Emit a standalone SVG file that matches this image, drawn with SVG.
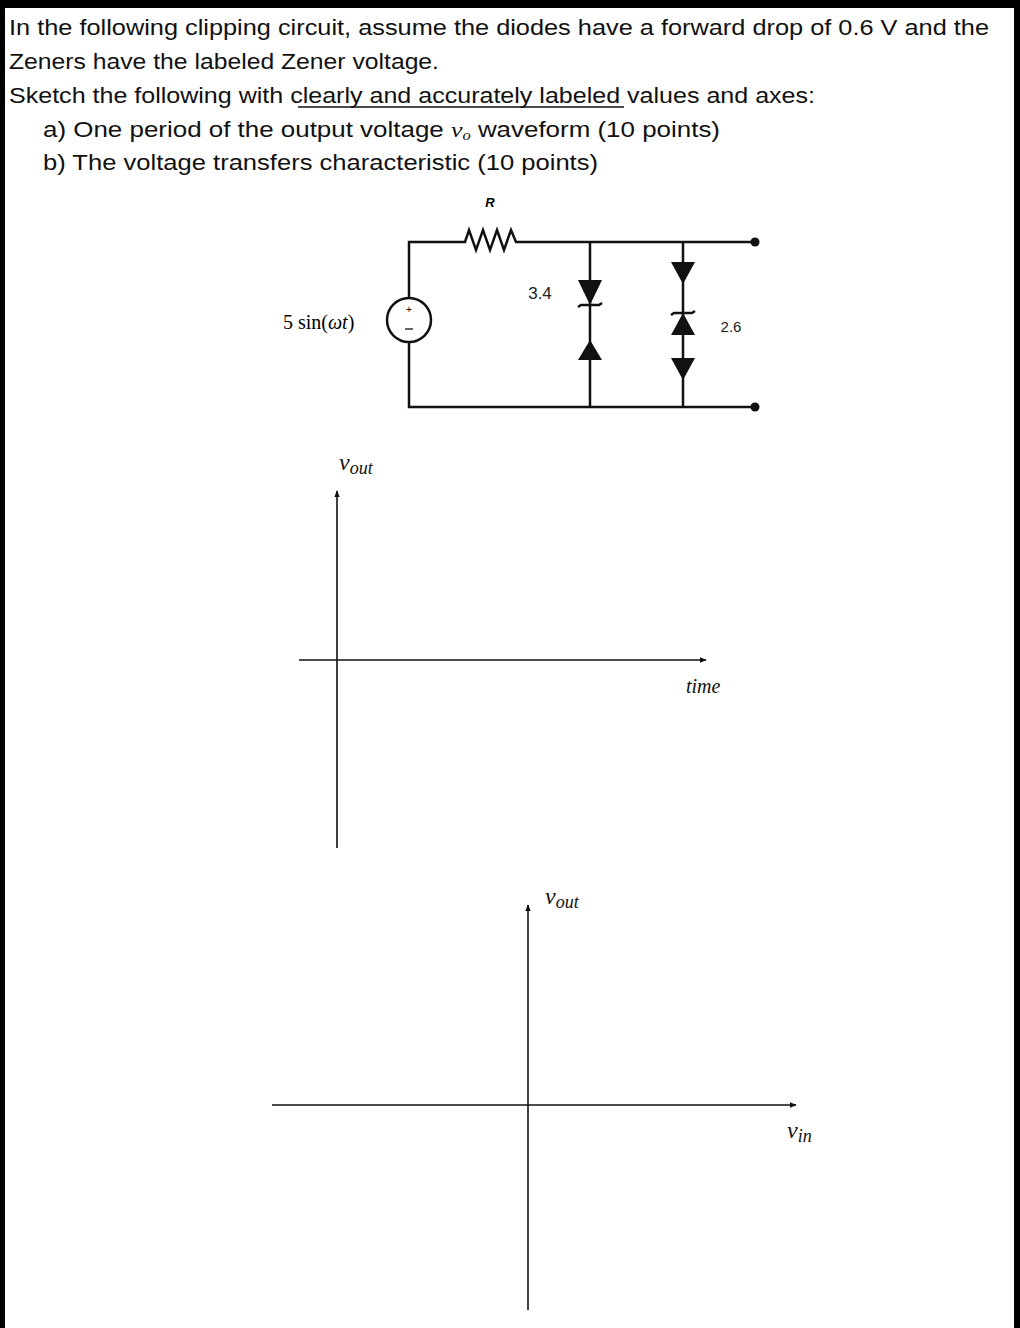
<svg xmlns="http://www.w3.org/2000/svg" width="1020" height="1328" viewBox="0 0 1020 1328">
<defs>
<style>
.t{font-family:"Liberation Sans",Arial,sans-serif;font-size:22px;fill:#111}
.w{stroke:#111;stroke-width:2.5;fill:none}
.ax{stroke:#111;stroke-width:1.6;fill:none}
.d{fill:#111;stroke:none}
.m{font-family:"Liberation Serif","DejaVu Serif",serif;font-style:italic;fill:#111}
</style>
<marker id="ar" viewBox="0 0 10 10" refX="9" refY="5" markerWidth="7" markerHeight="7" orient="auto" markerUnits="userSpaceOnUse"><path d="M0,1L10,5L0,9z" fill="#111"/></marker>
</defs>
<rect width="1020" height="1328" fill="#000"/>
<rect x="5" y="8" width="1009" height="1320" fill="#fff"/>
<g id="text">
<text class="t" x="9" y="35" textLength="980" lengthAdjust="spacingAndGlyphs">In the following clipping circuit, assume the diodes have a forward drop of 0.6 V and the</text>
<text class="t" x="9" y="69" textLength="430" lengthAdjust="spacingAndGlyphs">Zeners have the labeled Zener voltage.</text>
<text class="t" x="9" y="103" textLength="806" lengthAdjust="spacingAndGlyphs">Sketch the following with clearly and accurately labeled values and axes:</text>
<line x1="298" y1="107" x2="624" y2="107" stroke="#111" stroke-width="1.5"/>
<text class="t" x="43" y="137" textLength="677" lengthAdjust="spacingAndGlyphs">a)  One period of the output voltage <tspan font-family="Liberation Serif,serif" font-style="italic">v<tspan font-size="14" dy="3">o</tspan></tspan><tspan dy="-3"> waveform (10 points)</tspan></text>
<text class="t" x="43" y="170" textLength="555" lengthAdjust="spacingAndGlyphs">b)  The voltage transfers characteristic (10 points)</text>
</g>
<g id="circuit">
<path class="w" d="M409,298V242H465l4,-12l7,20l7,-20l7,20l7,-20l7,20l7,-20l5,12H755M409,342V407H755M590,242V407M683,242V407"/>
<circle cx="755" cy="242" r="4.5" class="d"/><circle cx="755" cy="407" r="4.5" class="d"/>
<circle cx="409" cy="320" r="22" fill="#fff" stroke="#111" stroke-width="2.5"/>
<text x="409" y="313" font-family="Liberation Sans,sans-serif" font-size="10" text-anchor="middle">+</text>
<line x1="405" y1="329" x2="413" y2="329" stroke="#111" stroke-width="1.3"/>
<text x="490" y="207" font-family="Liberation Sans,sans-serif" font-size="13" font-weight="bold" font-style="italic" text-anchor="middle">R</text>
<path class="d" d="M578,280H602L590,305z"/>
<path class="w" stroke-width="1.6" d="M578,307l3,-2H599l3,-2"/>
<path class="d" d="M578,360H602L590,340z"/>
<path class="d" d="M671,262H695L683,284z"/>
<path class="d" d="M671,335H695L683,313z"/>
<path class="w" stroke-width="1.6" d="M671,315l3,-2H692l3,-2"/>
<path class="d" d="M671,358H695L683,380z"/>
<text x="540" y="299" font-family="Liberation Sans,sans-serif" font-size="17" text-anchor="middle" fill="#222">3.4</text>
<text x="731" y="332" font-family="Liberation Sans,sans-serif" font-size="15" text-anchor="middle" fill="#222">2.6</text>
<text x="283" y="329" font-family="Liberation Serif,serif" font-size="20">5 sin(<tspan font-style="italic">ωt</tspan>)</text>
</g>
<g id="graph1">
<line class="ax" x1="337" y1="848" x2="337" y2="491" marker-end="url(#ar)"/>
<line class="ax" x1="299" y1="660" x2="706" y2="660" marker-end="url(#ar)"/>
<text class="m" x="339" y="470" font-size="24">v<tspan font-size="18" dy="4">out</tspan></text>
<text class="m" x="686" y="693" font-size="20">time</text>
</g>
<g id="graph2">
<line class="ax" x1="528" y1="1310" x2="528" y2="905" marker-end="url(#ar)"/>
<line class="ax" x1="272" y1="1105" x2="796" y2="1105" marker-end="url(#ar)"/>
<text class="m" x="545" y="904" font-size="24">v<tspan font-size="18" dy="4">out</tspan></text>
<text class="m" x="787" y="1138" font-size="24">v<tspan font-size="18" dy="4">in</tspan></text>
</g>
</svg>
